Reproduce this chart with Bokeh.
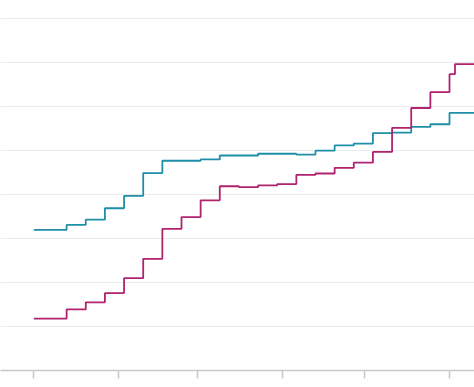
import pandas as pd
from bokeh.plotting import figure
from bokeh.models import Range1d, SingleIntervalTicker, MonthsTicker, CustomJSTickFormatter
from bokeh.embed import file_html
from bokeh.resources import INLINE

# ---- data ----
teal_dates = ["2020-01-01", "2020-01-13", "2020-01-20", "2020-01-27", "2020-02-03",
              "2020-02-10", "2020-02-17", "2020-02-24", "2020-03-02", "2020-03-09",
              "2020-03-16", "2020-03-23", "2020-03-30", "2020-04-06", "2020-04-13",
              "2020-04-20", "2020-04-27", "2020-05-04", "2020-05-11", "2020-05-18",
              "2020-05-25", "2020-06-01", "2020-06-15"]
teal_values = [32.0, 33.1, 34.3, 36.9, 39.7, 44.9, 47.7, 47.7, 48.0, 48.9,
               48.9, 49.3, 49.3, 49.1, 50.0, 51.2, 51.6, 54.0, 54.1, 55.4,
               56.0, 58.6, 58.6]

magenta_dates = ["2020-01-01", "2020-01-13", "2020-01-20", "2020-01-27", "2020-02-03",
                 "2020-02-10", "2020-02-17", "2020-02-24", "2020-03-02", "2020-03-09",
                 "2020-03-16", "2020-03-23", "2020-03-30", "2020-04-06", "2020-04-13",
                 "2020-04-20", "2020-04-27", "2020-05-04", "2020-05-11", "2020-05-18",
                 "2020-05-25", "2020-06-01", "2020-06-03", "2020-06-15"]
magenta_values = [11.8, 13.9, 15.5, 17.6, 21.0, 25.4, 32.2, 34.9, 38.7, 41.9,
                  41.7, 42.1, 42.4, 44.5, 44.8, 46.1, 47.3, 49.7, 55.2, 59.7,
                  63.3, 67.4, 69.7, 69.7]

x_start = pd.Timestamp("2020-01-01") - pd.Timedelta(days=12.18)
x_end = pd.Timestamp("2020-06-01") + pd.Timedelta(days=9.14)

p = figure(width=474, height=387, output_backend="svg", toolbar_location=None,
           x_axis_type="datetime",
           x_range=Range1d(x_start, x_end), y_range=Range1d(0, 84.15),
           min_border_left=0, min_border_right=0, min_border_top=0,
           min_border_bottom=17)
p.outline_line_color = None
p.background_fill_color = "white"
p.border_fill_color = "white"

p.step(pd.to_datetime(teal_dates), teal_values, mode="after",
       line_color="#1f8fa8", line_width=1.8)
p.step(pd.to_datetime(magenta_dates), magenta_values, mode="after",
       line_color="#b1226f", line_width=1.8)

# x axis: month ticks, no labels
p.xaxis.ticker = MonthsTicker(months=list(range(1, 13)))
p.xaxis.formatter = CustomJSTickFormatter(code="return ''")
p.xaxis.axis_line_color = "#c8c8c8"
p.xaxis.axis_line_width = 1.5
p.xaxis.major_tick_line_color = "#c8c8c8"
p.xaxis.major_tick_line_width = 1.5
p.xaxis.major_tick_in = 0
p.xaxis.major_tick_out = 8
p.xaxis.minor_tick_line_color = None
p.xgrid.grid_line_color = None

# y: gridlines only
p.yaxis.ticker = SingleIntervalTicker(interval=10)
p.yaxis.visible = False
p.ygrid.ticker = SingleIntervalTicker(interval=10)
p.ygrid.grid_line_color = "#ebebeb"
p.ygrid.grid_line_width = 1

open("out.html", "w").write(file_html(p, INLINE))
